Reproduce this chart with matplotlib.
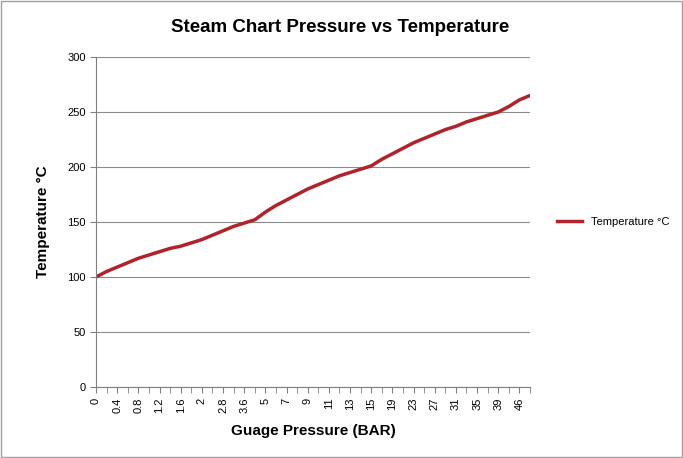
import matplotlib
matplotlib.use("Agg")
import matplotlib.pyplot as plt
from matplotlib.patches import Rectangle

pressure = ["0","0.2","0.4","0.6","0.8","1","1.2","1.4","1.6","1.8","2","2.4","2.8","3.2","3.6","4",
            "5","6","7","8","9","10","11","12","13","14","15","17","19","21","23","25","27","29","31",
            "33","35","37","39","42","46","50"]
temperature = [100,105,109,113,117,120,123,126,128,131,134,138,142,146,149,152,
               159,165,170,175,180,184,188,192,195,198,201,207,212,217,222,226,230,234,237,
               241,244,247,250,255,261,265]

plt.rcParams['font.family'] = ['Liberation Sans', 'DejaVu Sans']
W, H = 683, 458
fig = plt.figure(figsize=(W/100, H/100), dpi=100)
fig.patches.append(Rectangle((0.002, 0.002), 0.996, 0.996, transform=fig.transFigure,
                             fill=False, edgecolor='#a0a0a0', linewidth=1))
ax = fig.add_axes([96/W, 1-387/H, (530-96)/W, (387-57)/H])
x = list(range(len(pressure)))
ax.plot(x, temperature, color='#b0232a', linewidth=2.5, label='Temperature °C')
ax.set_xlim(0, len(pressure)-1)
ax.set_ylim(0, 300)
ax.set_yticks(range(0, 301, 50))
ax.set_xticks(x, minor=True)
ax.set_xticks(x[::2])
ax.set_xticklabels(pressure[::2], rotation=90, fontsize=8)
ax.tick_params(axis='y', labelsize=8, length=4, color='#808080')
ax.tick_params(axis='x', which='both', length=4, color='#808080')
ax.grid(axis='y', color='#8c8c8c', linewidth=0.8)
ax.set_axisbelow(True)
for s in ['top', 'right']:
    ax.spines[s].set_visible(False)
for s in ['left', 'bottom']:
    ax.spines[s].set_color('#808080')
fig.text(340/W, 1-27/H, 'Steam Chart Pressure vs Temperature', fontsize=13.5, fontweight='bold',
         ha='center', va='center')
ax.set_xlabel('Guage Pressure (BAR)', fontsize=11, fontweight='bold', labelpad=8)
ax.set_ylabel('Temperature °C', fontsize=11, fontweight='bold', labelpad=12)
ax.legend(loc='center left', bbox_to_anchor=(1.04, 0.5), frameon=False, fontsize=8, handlelength=2.2)
fig.savefig('out.png', dpi=100)
